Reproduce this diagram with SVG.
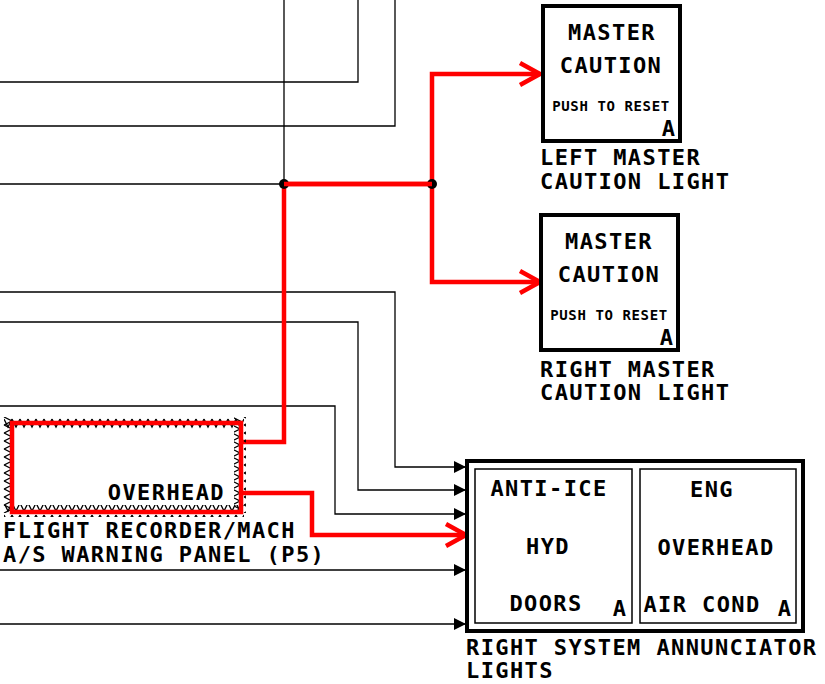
<svg xmlns="http://www.w3.org/2000/svg" width="825" height="684" viewBox="0 0 825 684">
<style>
text{font-family:"DejaVu Sans Mono","Liberation Mono",monospace;font-weight:bold;font-size:22px;letter-spacing:1.4px;fill:#000}
.s{font-size:14px;letter-spacing:0.6px}
.w{fill:none;stroke:#000;stroke-width:1.3}
.r{fill:none;stroke:#f00;stroke-width:4.5}
.box{fill:#fff;stroke:#000;stroke-width:4}
.in{fill:none;stroke:#000;stroke-width:1.5}
</style>
<defs>
<marker id="ab" markerWidth="12" markerHeight="12" refX="12" refY="6" orient="auto" markerUnits="userSpaceOnUse"><path d="M0,0 L12,6 L0,12Z" fill="#000"/></marker>
<marker id="ar" markerWidth="30" markerHeight="30" refX="24" refY="15" orient="auto" markerUnits="userSpaceOnUse"><path d="M4,4 L24,15 L4,26" fill="none" stroke="#f00" stroke-width="4.5"/></marker>
<pattern id="zh" width="8" height="12" patternUnits="userSpaceOnUse" x="4" y="417"><path d="M0,2 L4,10 L8,2" fill="none" stroke="#000" stroke-width="1.3"/></pattern>
<pattern id="zv" width="12" height="8" patternUnits="userSpaceOnUse" x="2" y="417"><path d="M2,0 L10,4 L2,8" fill="none" stroke="#000" stroke-width="1.3"/></pattern>
</defs>
<g id="connectors">
<path class="w" d="M284,0 V184 M0,184 H284"/>
<path class="w" d="M358,0 V82 H0"/>
<path class="w" d="M395,0 V126 H0"/>
<path class="w" d="M0,292 H395 V467 H466" marker-end="url(#ab)"/>
<path class="w" d="M0,322 H358 V490 H466" marker-end="url(#ab)"/>
<path class="w" d="M0,406 H335 V514 H466" marker-end="url(#ab)"/>
<path class="w" d="M0,570 H466" marker-end="url(#ab)"/>
<path class="w" d="M0,624 H466" marker-end="url(#ab)"/>
<path class="r" d="M242,442 H284 V184 H432 V74 H540" marker-end="url(#ar)"/>
<path class="r" d="M432,184 V282 H540" marker-end="url(#ar)"/>
<path class="r" d="M242,493 H312 V535 H466" marker-end="url(#ar)"/>
<circle cx="284" cy="184" r="5" fill="#000"/>
<circle cx="432" cy="184" r="5" fill="#000"/>
<path d="M284,184 H432" stroke="#f00" stroke-width="4.5"/>
</g>
<g id="overhead-panel">
<rect x="4" y="417" width="240" height="12" fill="url(#zh)"/>
<rect x="4" y="505" width="240" height="12" fill="url(#zh)"/>
<rect x="2" y="417" width="12" height="96" fill="url(#zv)"/>
<rect x="234" y="417" width="12" height="96" fill="url(#zv)"/>
<rect x="12" y="423" width="229" height="89" fill="none" stroke="#f00" stroke-width="4.5"/>
<text x="225" y="500" text-anchor="end">OVERHEAD</text>
<text x="3" y="538">FLIGHT RECORDER/MACH</text>
<text x="3" y="562">A/S WARNING PANEL (P5)</text>
</g>
<g id="left-master-caution">
<rect class="box" x="543" y="6" width="137" height="135"/>
<text x="612" y="40" text-anchor="middle">MASTER</text>
<text x="611" y="73" text-anchor="middle">CAUTION</text>
<text class="s" x="611" y="111" text-anchor="middle">PUSH TO RESET</text>
<text x="669" y="136" text-anchor="middle">A</text>
<text x="540" y="165">LEFT MASTER</text>
<text x="540" y="189">CAUTION LIGHT</text>
</g>
<g id="right-master-caution">
<rect class="box" x="541" y="215" width="137" height="135"/>
<text x="609" y="249" text-anchor="middle">MASTER</text>
<text x="609" y="282" text-anchor="middle">CAUTION</text>
<text class="s" x="609" y="320" text-anchor="middle">PUSH TO RESET</text>
<text x="667" y="345" text-anchor="middle">A</text>
<text x="540" y="377">RIGHT MASTER</text>
<text x="540" y="400">CAUTION LIGHT</text>
</g>
<g id="annunciator">
<rect class="box" x="467" y="461" width="336" height="170"/>
<rect class="in" x="475" y="469" width="157" height="154"/>
<rect class="in" x="640" y="469" width="156" height="154"/>
<text x="549" y="496" text-anchor="middle">ANTI-ICE</text>
<text x="548" y="554" text-anchor="middle">HYD</text>
<text x="546" y="611" text-anchor="middle">DOORS</text>
<text x="620" y="616" text-anchor="middle">A</text>
<text x="712" y="497" text-anchor="middle">ENG</text>
<text x="716" y="555" text-anchor="middle">OVERHEAD</text>
<text x="702" y="612" text-anchor="middle">AIR COND</text>
<text x="785" y="616" text-anchor="middle">A</text>
<text x="466" y="655">RIGHT SYSTEM ANNUNCIATOR</text>
<text x="466" y="678">LIGHTS</text>
</g>
</svg>
